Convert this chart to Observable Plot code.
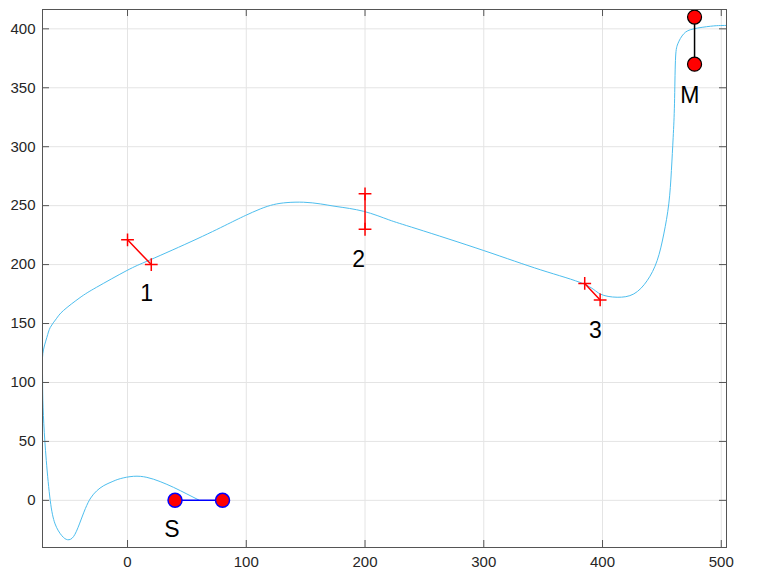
<!DOCTYPE html>
<html><head><meta charset="utf-8">
<script src="https://cdn.jsdelivr.net/npm/d3@7"></script>
<script src="https://cdn.jsdelivr.net/npm/@observablehq/plot@0.6"></script>
<style>body{margin:0;background:#fff} svg{display:block}</style>
</head><body><div id="chart"></div>
<script>
// Trajectory (in path order, starting at S)
const pathX = [60, 50, 38.8, 27.5, 16.3, 5.1, -6.1, -13, -20, -26, -31, -35.5, -40.5, -45.5, -50.5, -55.3, -61, -65.1, -68.4, -70.5, -71.4, -71.6, -71.3, -68, -65, -60, -54, -40, -26, -0.5, 19, 58.5, 86.5, 99.2, 111.8, 123, 134.3, 148.3, 162.3, 176.4, 198.8, 220, 243.8, 300, 348, 384.2, 398, 412.3, 426.3, 437.6, 446, 451.6, 455.8, 458, 459.5, 460.6, 461.4, 463.4, 468.4, 476.8, 490.9, 499.3, 506];
const pathY = [0.3, 5.4, 11, 15.9, 19.5, 20.4, 18.4, 15.8, 12.5, 8, 2, -7, -20, -30.8, -33.4, -30, -20, 0, 33.7, 65, 90, 108, 124.5, 138, 146.8, 154, 161, 172, 180.8, 195, 204, 221.8, 235.4, 241.6, 247.2, 250.9, 252.6, 252.9, 251.5, 249.2, 245.2, 238, 230.3, 211.9, 195.5, 183.6, 175.1, 172.3, 175.1, 186.4, 203.4, 226, 251.5, 279.8, 308, 336.4, 373, 387.3, 395.8, 400, 402.2, 402.8, 402.9];

const xTicks = [0, 100, 200, 300, 400, 500];
const yTicks = [0, 50, 100, 150, 200, 250, 300, 350, 400];

const startX = [40, 80], startY = [0, 0];
const goalX = [477.5, 477.5], goalY = [410, 370];
const wp1X = [0, 20], wp1Y = [221, 200];
const wp2X = [200, 200], wp2Y = [260, 230];
const wp3X = [385, 398], wp3Y = [184, 170];

const labelText = ["S", "1", "2", "3", "M"];
const labelX = [37.4, 16, 194.6, 394, 473.5];
const labelY = [-25, 175, 204, 144, 343.4];

const pts = (xs, ys) => xs.map((x, i) => ({x, y: ys[i]}));
const path = pts(pathX, pathY);
const start = pts(startX, startY);
const goal = pts(goalX, goalY);
const wps = [pts(wp1X, wp1Y), pts(wp2X, wp2Y), pts(wp3X, wp3Y)];
const labels = labelText.map((t, i) => ({t, x: labelX[i], y: labelY[i]}));

const W = 779, H = 580, mL = 42, mR = 53, mT = 9, mB = 33;
const innerW = W - mL - mR, innerH = H - mT - mB, tk = 7;
const axisCol = "#555", gridCol = "#e4e4e4";

const wpMarks = wps.flatMap(w => [
  Plot.line(w, {x: "x", y: "y", stroke: "#ff0000", strokeWidth: 1.5}),
  Plot.dot(w, {x: "x", y: "y", symbol: "plus", r: 4.2, stroke: "#ff0000", strokeWidth: 1.5})
]);

const chart = Plot.plot({
  width: W, height: H,
  marginLeft: mL, marginRight: mR, marginTop: mT, marginBottom: mB,
  style: {fontFamily: "'Liberation Sans', Arial, sans-serif", background: "#fff"},
  x: {domain: [-71.6, 504.4]},
  y: {domain: [-40, 416.4]},
  marks: [
    Plot.ruleX(xTicks, {x: d => d, stroke: gridCol}),
    Plot.ruleY(yTicks, {y: d => d, stroke: gridCol}),
    Plot.line(path, {x: "x", y: "y", curve: "natural", stroke: "#4DBEEE", strokeWidth: 1, clip: true}),
    Plot.line(start, {x: "x", y: "y", stroke: "#0000ff", strokeWidth: 1.5}),
    Plot.dot(start, {x: "x", y: "y", r: 7, fill: "#ff0000", stroke: "#0000ff", strokeWidth: 1.5}),
    Plot.line(goal, {x: "x", y: "y", stroke: "#000", strokeWidth: 1.5}),
    Plot.dot(goal, {x: "x", y: "y", r: 7, fill: "#ff0000", stroke: "#000", strokeWidth: 1.2}),
    ...wpMarks,
    Plot.text(labels, {x: "x", y: "y", text: "t", fontSize: 23, fill: "#000"}),
    Plot.frame({stroke: axisCol}),
    Plot.tickX(xTicks, {x: d => d, insetTop: innerH - tk, stroke: axisCol}),
    Plot.tickX(xTicks, {x: d => d, insetBottom: innerH - tk, stroke: axisCol}),
    Plot.tickY(yTicks, {y: d => d, insetRight: innerW - tk, stroke: axisCol}),
    Plot.tickY(yTicks, {y: d => d, insetLeft: innerW - tk, stroke: axisCol}),
    Plot.axisX(xTicks, {tickSize: 0, tickPadding: 9, fontSize: 15, fill: "#262626", label: null}),
    Plot.axisY(yTicks, {tickSize: 0, tickPadding: 7, fontSize: 15, fill: "#262626", label: null})
  ]
});
document.getElementById("chart").appendChild(chart);
</script>
</body></html>
